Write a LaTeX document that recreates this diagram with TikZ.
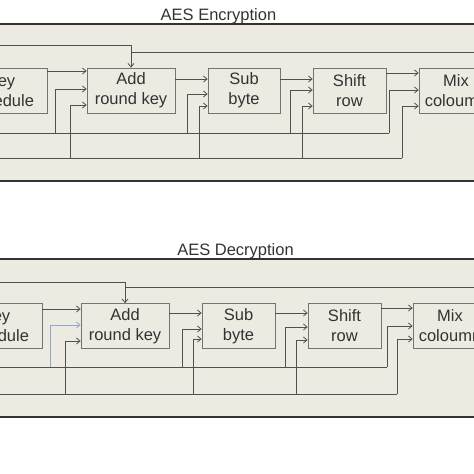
\documentclass[tikz,border=0pt]{standalone}
\usepackage{fontspec}
\setmainfont{Liberation Sans}
\usetikzlibrary{arrows.meta}

\definecolor{panelbg}{HTML}{EDEAE2}
\definecolor{boxgray}{HTML}{747474}
\definecolor{linegray}{HTML}{505050}
\definecolor{framegray}{HTML}{333333}
\definecolor{tapblue}{HTML}{8EA9CC}

\tikzset{
  stage/.style={draw=boxgray, fill=panelbg, line width=0.8pt, minimum height=45pt,
    inner sep=0pt, align=center, font=\fontsize{16.5}{20}\selectfont, text=black!80},
  wire/.style={draw=linegray, line width=0.8pt},
  arr/.style={wire, -{Straight Barb[length=3.5pt,width=6pt]}},
  panel/.style={draw=framegray, fill=panelbg, line width=1.6pt},
  caption/.style={font=\fontsize{16.5}{19}\selectfont, text=black!80}
}

\begin{document}
\begin{tikzpicture}[x=1pt,y=-1pt]
\useasboundingbox (0,0) rectangle (474,474);
\clip (0,0) rectangle (474,474);

% encryption
\draw[panel] (-5,24) rectangle (480,181);
\node[caption] (enctitle) at (218.5,16) {AES Encryption};
\node[stage, minimum width=92pt] (key1) at (1,90.5) {Key\\schedule};
\node[stage, minimum width=88pt] (add1) at (131,90.5) {Add\\round key};
\node[stage, minimum width=72pt] (sub1) at (244,90.5) {Sub\\byte};
\node[stage, minimum width=73pt] (shift1) at (349.5,90.5) {Shift\\row};
\node[stage, minimum width=74pt] (mix1) at (456,90.5) {Mix\\coloumn};
\coordinate (loopL1) at (-5,45);
\coordinate (loopR1) at (480,52);
\coordinate (busA1) at (-5,133);
\coordinate (busB1) at (-5,158);
\draw[wire] (busA1) -- (389,133);
\draw[wire] (busB1) -- (402,158);
\draw[arr] (loopL1) -| (add1.north);
\draw[wire] (loopR1) -- (loopR1 -| add1.north);
\draw[arr] ([yshift=19.5pt]key1.east) -- ([yshift=19.5pt]add1.west);
\draw[arr] ([yshift=11.5pt]add1.east) -- ([yshift=11.5pt]sub1.west);
\draw[arr] ([yshift=11.5pt]sub1.east) -- ([yshift=11.5pt]shift1.west);
\draw[arr] ([yshift=17.5pt]shift1.east) -- ([yshift=17.5pt]mix1.west);
\foreach \stg/\xa/\xb/\ya/\yb in {add1/55/70/1.5/-14.5, sub1/187/199/-3.5/-15.5,
    shift1/290/302/0.5/-15.5, mix1/389/402/0.5/-15.5}{
  \coordinate (tapA) at (\xa,133);
  \coordinate (tapB) at (\xb,158);
  \draw[arr] (tapA) |- ([yshift=\ya pt]\stg.west);
  \draw[arr] (tapB) |- ([yshift=\yb pt]\stg.west);
}

% decryption
\draw[panel] (-5,259) rectangle (480,417);
\node[caption] (dectitle) at (235.5,251) {AES Decryption};
\node[stage, minimum width=92pt] (key2) at (-4,326) {Key\\schedule};
\node[stage, minimum width=88pt] (add2) at (125,326) {Add\\round key};
\node[stage, minimum width=73pt] (sub2) at (238.5,326) {Sub\\byte};
\node[stage, minimum width=73pt] (shift2) at (344.5,326) {Shift\\row};
\node[stage, minimum width=74pt] (mix2) at (450,326) {Mix\\coloumn};
\coordinate (loopL2) at (-5,282);
\coordinate (loopR2) at (480,287);
\coordinate (busA2) at (-5,367);
\coordinate (busB2) at (-5,394);
\draw[wire] (busA2) -- (387,367);
\draw[wire] (busB2) -- (397,394);
\draw[arr] (loopL2) -| (add2.north);
\draw[wire] (loopR2) -- (loopR2 -| add2.north);
\draw[arr] ([yshift=17pt]key2.east) -- ([yshift=17pt]add2.west);
\draw[arr] ([yshift=13pt]add2.east) -- ([yshift=13pt]sub2.west);
\draw[arr] ([yshift=13pt]sub2.east) -- ([yshift=13pt]shift2.west);
\draw[arr] ([yshift=18pt]shift2.east) -- ([yshift=18pt]mix2.west);
\coordinate (tapblue) at (50,367);
\coordinate (tapC) at (65,394);
\draw[arr, draw=tapblue] (tapblue) |- ([yshift=1pt]add2.west);
\draw[arr] (tapC) |- ([yshift=-15pt]add2.west);
\foreach \stg/\xa/\xb/\ya/\yb in {sub2/182/193/-3/-13, shift2/285/296/-1/-14,
    mix2/387/397/0/-13}{
  \coordinate (tapA) at (\xa,367);
  \coordinate (tapB) at (\xb,394);
  \draw[arr] (tapA) |- ([yshift=\ya pt]\stg.west);
  \draw[arr] (tapB) |- ([yshift=\yb pt]\stg.west);
}
\end{tikzpicture}
\end{document}
